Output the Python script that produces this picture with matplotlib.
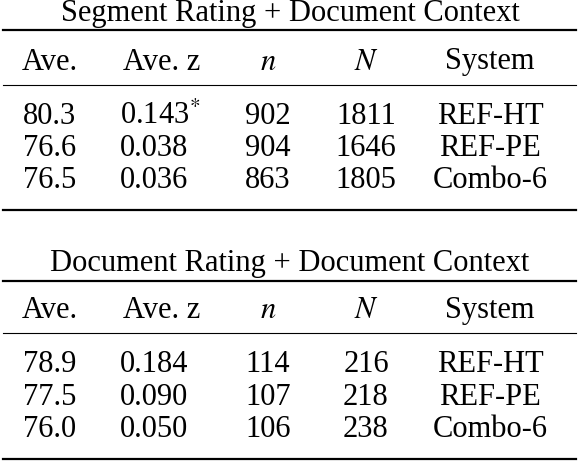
import matplotlib
matplotlib.use("Agg")
import matplotlib.pyplot as plt
from matplotlib.lines import Line2D

titles = ["Segment Rating + Document Context", "Document Rating + Document Context"]
headers = ["Ave.", "Ave. z", "$n$", "$N$", "System"]
ave = [["80.3", "76.6", "76.5"], ["78.9", "77.5", "76.0"]]
avez = [["0.143$^{*}$", "0.038", "0.036"], ["0.184", "0.090", "0.050"]]
n_vals = [["902", "904", "863"], ["114", "107", "106"]]
N_vals = [["1811", "1646", "1805"], ["216", "218", "238"]]
systems = [["REF-HT", "REF-PE", "Combo-6"], ["REF-HT", "REF-PE", "Combo-6"]]

W, H = 579, 464
fig = plt.figure(figsize=(W/100, H/100), dpi=100)
plt.rcParams['font.family'] = ['Liberation Serif', 'DejaVu Serif']
plt.rcParams['mathtext.fontset'] = 'stix'
fs = 22

def T(x, y, s, ha='center'):
    fig.text(x/W, 1 - y/H, s, ha=ha, va='center', fontsize=fs)

def L(y, lw):
    fig.add_artist(Line2D([3/W, 576/W], [1 - y/H, 1 - y/H], color='black', lw=lw))

col_x = [50, 162, 268, 366, 490]
blocks = [dict(title=13, top=31, head=62, mid=86, rows=[116, 149, 180], bot=211),
          dict(title=264, top=282, head=311, mid=334, rows=[365, 398, 430], bot=460)]
for b, blk in enumerate(blocks):
    T(290, blk['title'], titles[b])
    L(blk['top'], 1.6)
    for x, h in zip(col_x, headers):
        T(x, blk['head'], h)
    L(blk['mid'], 0.8)
    for i, y in enumerate(blk['rows']):
        T(col_x[0], y, ave[b][i])
        T(120, y, avez[b][i], ha='left')
        T(col_x[2], y, n_vals[b][i])
        T(col_x[3], y, N_vals[b][i])
        T(col_x[4], y, systems[b][i])
    L(blk['bot'], 1.6)

fig.savefig("out.png", dpi=100)
